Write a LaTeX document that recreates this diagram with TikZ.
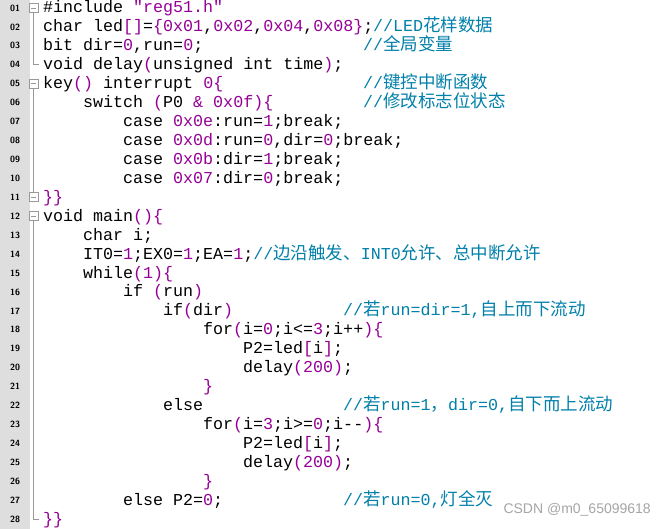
\documentclass[tikz,border=0pt]{standalone}
\usepackage{fontspec}
\newfontfamily\codefont{Liberation Mono}[Ligatures=NoCommon]
\newfontfamily\cjk{Noto Sans CJK SC}
\definecolor{numc}{RGB}{150,0,150}
\definecolor{comc}{RGB}{0,128,170}
\definecolor{gut}{RGB}{222,222,222}
\newcommand\p[1]{\textcolor{numc}{#1}}
\newcommand\cm[1]{\textcolor{comc}{#1}}
\newcommand\zh[1]{{\cjk\fontsize{17.5}{18}\selectfont #1}}
\tikzset{codeline/.style={anchor=base west,inner sep=0pt,font=\codefont\fontsize{16.67}{18}\selectfont},
lnum/.style={inner sep=0pt,font=\sffamily\bfseries\fontsize{9}{10}\selectfont},
fold/.style={draw=gray!80,line width=0.8pt},
foldbox/.style={draw=gray!80,fill=white,minimum size=9pt,inner sep=0pt,line width=0.8pt}}
\newcommand\Lrow[3]{\node[codeline] (l#1c#2) at ({43+10*#2},{8+(#1-1)*18.93+5}) {#3};}
\begin{document}
\begin{tikzpicture}[x=1pt,y=-1pt]
\useasboundingbox (0,0) rectangle (664,529);
\fill[white] (0,0) rectangle (664,529);
\fill[gut] (0,0) rectangle (30,529);
\foreach \r in {1,...,28}{
  \pgfmathtruncatemacro\rr{\r}
  \node[lnum] (n\r) at (15,{8+(\r-1)*18.93}) {\ifnum\rr<10 0\fi\rr};
}
% fold markers
\draw[fold] (33.5,8) -- (33.5,{8+3*18.93}) -- (39,{8+3*18.93});
\draw[fold] (33.5,{8+4*18.93}) -- (33.5,{8+10*18.93});
\draw[fold] (33.5,{8+11*18.93}) -- (33.5,{8+27*18.93}) -- (39,{8+27*18.93});
\foreach \r in {1,5,11,12}{
  \node[foldbox] (f\r) at (33.5,{8+(\r-1)*18.93}) {};
  \draw[fold] ([xshift=2pt]f\r.west) -- ([xshift=-2pt]f\r.east);
}
\Lrow{1}{0}{\#include \p{"reg51.h"}}
\Lrow{2}{0}{char led\p{[]}=\p{\{0x01},\p{0x02},\p{0x04},\p{0x08\}};}
\Lrow{2}{33}{\cm{//LED\zh{花样数据}}}
\Lrow{3}{0}{bit dir=\p{0},run=\p{0};}
\Lrow{3}{32}{\cm{//\zh{全局变量}}}
\Lrow{4}{0}{void delay\p{(}unsigned int time\p{)};}
\Lrow{5}{0}{key\p{()} interrupt \p{0\{}}
\Lrow{5}{32}{\cm{//\zh{键控中断函数}}}
\Lrow{6}{4}{switch \p{(}P0 \p{\&} \p{0x0f)\{}}
\Lrow{6}{32}{\cm{//\zh{修改标志位状态}}}
\Lrow{7}{8}{case \p{0x0e}:run=\p{1};break;}
\Lrow{8}{8}{case \p{0x0d}:run=\p{0},dir=\p{0};break;}
\Lrow{9}{8}{case \p{0x0b}:dir=\p{1};break;}
\Lrow{10}{8}{case \p{0x07}:dir=\p{0};break;}
\Lrow{11}{0}{\p{\}\}}}
\Lrow{12}{0}{void main\p{()\{}}
\Lrow{13}{4}{char i;}
\Lrow{14}{4}{IT0=\p{1};EX0=\p{1};EA=\p{1};\cm{//\zh{边沿触发、}INT0\zh{允许、总中断允许}}}
\Lrow{15}{4}{while\p{(1)\{}}
\Lrow{16}{8}{if \p{(}run\p{)}}
\Lrow{17}{12}{if\p{(}dir\p{)}}
\Lrow{17}{30}{\cm{//\zh{若}run=dir=1,\zh{自上而下流动}}}
\Lrow{18}{16}{for\p{(}i=\p{0};i<=\p{3};i++\p{)\{}}
\Lrow{19}{20}{P2=led\p{[}i\p{]};}
\Lrow{20}{20}{delay\p{(200)};}
\Lrow{21}{16}{\p{\}}}
\Lrow{22}{12}{else}
\Lrow{22}{30}{\cm{//\zh{若}run=1\zh{，}dir=0,\zh{自下而上流动}}}
\Lrow{23}{16}{for\p{(}i=\p{3};i>=\p{0};i-{}-\p{)\{}}
\Lrow{24}{20}{P2=led\p{[}i\p{]};}
\Lrow{25}{20}{delay\p{(200)};}
\Lrow{26}{16}{\p{\}}}
\Lrow{27}{8}{else P2=\p{0};}
\Lrow{27}{30}{\cm{//\zh{若}run=0,\zh{灯全灭}}}
\Lrow{28}{0}{\p{\}\}}}
\node[anchor=east,inner sep=0pt,text=gray!70,font=\fontspec{Liberation Sans}\fontsize{14}{16}\selectfont] (wm) at (651,510) {CSDN @m0\_65099618};
\end{tikzpicture}
\end{document}
